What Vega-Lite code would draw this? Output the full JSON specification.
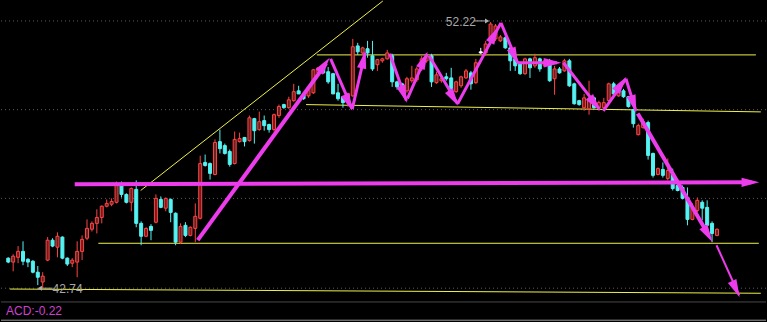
{
"$schema": "https://vega.github.io/schema/vega-lite/v6.json",
"width": 767, "height": 322,
"autosize": {"type": "fit", "contains": "padding"},
"padding": 0,
"background": "#000000",
"config": {"view": {"stroke": null}},
"datasets": {
"k": [
{"i":0,"o":43.81,"h":43.84,"l":43.63,"c":43.67,"d":"down"},
{"i":1,"o":43.67,"h":43.95,"l":43.34,"c":43.88,"d":"up"},
{"i":2,"o":43.84,"h":44.24,"l":43.63,"c":44.05,"d":"up"},
{"i":3,"o":44.05,"h":44.41,"l":43.56,"c":43.70,"d":"down"},
{"i":4,"o":43.77,"h":43.81,"l":43.49,"c":43.67,"d":"down"},
{"i":5,"o":43.70,"h":43.74,"l":43.27,"c":43.31,"d":"down"},
{"i":6,"o":43.31,"h":43.53,"l":42.85,"c":43.13,"d":"down"},
{"i":7,"o":42.96,"h":43.31,"l":42.74,"c":43.17,"d":"up"},
{"i":8,"o":43.74,"h":44.56,"l":43.70,"c":44.45,"d":"up"},
{"i":9,"o":44.45,"h":44.52,"l":44.20,"c":44.24,"d":"down"},
{"i":10,"o":44.20,"h":44.73,"l":43.84,"c":44.59,"d":"up"},
{"i":11,"o":44.56,"h":44.59,"l":43.77,"c":43.81,"d":"down"},
{"i":12,"o":43.81,"h":43.84,"l":43.53,"c":43.60,"d":"down"},
{"i":13,"o":43.63,"h":43.81,"l":43.49,"c":43.74,"d":"up"},
{"i":14,"o":43.67,"h":44.41,"l":43.13,"c":44.05,"d":"up"},
{"i":15,"o":44.05,"h":44.62,"l":43.74,"c":44.48,"d":"up"},
{"i":16,"o":44.52,"h":45.19,"l":44.45,"c":44.87,"d":"up"},
{"i":17,"o":44.84,"h":45.12,"l":44.76,"c":45.05,"d":"up"},
{"i":18,"o":45.05,"h":45.55,"l":44.69,"c":45.26,"d":"up"},
{"i":19,"o":45.26,"h":45.69,"l":45.05,"c":45.66,"d":"up"},
{"i":20,"o":45.66,"h":45.90,"l":45.62,"c":45.76,"d":"up"},
{"i":21,"o":45.73,"h":45.94,"l":45.66,"c":45.83,"d":"up"},
{"i":22,"o":45.80,"h":46.54,"l":45.76,"c":46.40,"d":"up"},
{"i":23,"o":46.44,"h":46.54,"l":45.97,"c":46.08,"d":"down"},
{"i":24,"o":46.08,"h":46.12,"l":45.76,"c":45.80,"d":"down"},
{"i":25,"o":45.80,"h":46.33,"l":45.48,"c":46.29,"d":"up"},
{"i":26,"o":46.26,"h":46.58,"l":44.91,"c":45.05,"d":"down"},
{"i":27,"o":45.05,"h":45.12,"l":44.27,"c":44.59,"d":"down"},
{"i":28,"o":44.59,"h":44.91,"l":44.56,"c":44.87,"d":"up"},
{"i":29,"o":44.94,"h":45.02,"l":44.45,"c":44.80,"d":"down"},
{"i":30,"o":45.09,"h":46.08,"l":45.05,"c":45.94,"d":"up"},
{"i":31,"o":45.90,"h":46.01,"l":45.59,"c":45.62,"d":"down"},
{"i":32,"o":45.59,"h":45.97,"l":45.48,"c":45.94,"d":"up"},
{"i":33,"o":45.90,"h":45.94,"l":45.09,"c":45.44,"d":"down"},
{"i":34,"o":45.41,"h":45.44,"l":44.27,"c":44.38,"d":"down"},
{"i":35,"o":44.38,"h":45.05,"l":44.31,"c":44.94,"d":"up"},
{"i":36,"o":44.98,"h":45.09,"l":44.56,"c":44.62,"d":"down"},
{"i":37,"o":44.62,"h":44.94,"l":44.59,"c":44.91,"d":"up"},
{"i":38,"o":44.87,"h":45.76,"l":44.38,"c":45.30,"d":"up"},
{"i":39,"o":45.23,"h":47.46,"l":45.19,"c":47.18,"d":"up"},
{"i":40,"o":47.22,"h":47.50,"l":47.07,"c":47.11,"d":"down"},
{"i":41,"o":47.18,"h":47.22,"l":46.61,"c":46.83,"d":"down"},
{"i":42,"o":46.79,"h":48.04,"l":46.76,"c":47.93,"d":"up"},
{"i":43,"o":47.96,"h":48.39,"l":47.54,"c":47.71,"d":"down"},
{"i":44,"o":47.82,"h":47.89,"l":47.50,"c":47.54,"d":"down"},
{"i":45,"o":47.61,"h":47.68,"l":47.07,"c":47.15,"d":"down"},
{"i":46,"o":47.18,"h":48.32,"l":47.15,"c":48.04,"d":"up"},
{"i":47,"o":47.96,"h":48.28,"l":47.93,"c":48.07,"d":"up"},
{"i":48,"o":48.11,"h":48.11,"l":47.79,"c":47.96,"d":"down"},
{"i":49,"o":48.00,"h":48.89,"l":47.96,"c":48.81,"d":"up"},
{"i":50,"o":48.78,"h":48.81,"l":47.89,"c":48.35,"d":"down"},
{"i":51,"o":48.39,"h":49.03,"l":48.35,"c":48.67,"d":"up"},
{"i":52,"o":48.71,"h":48.89,"l":48.35,"c":48.53,"d":"down"},
{"i":53,"o":48.57,"h":48.60,"l":48.28,"c":48.39,"d":"down"},
{"i":54,"o":48.39,"h":48.96,"l":48.32,"c":48.92,"d":"up"},
{"i":55,"o":48.89,"h":49.28,"l":48.81,"c":49.21,"d":"up"},
{"i":56,"o":49.28,"h":49.31,"l":49.13,"c":49.17,"d":"down"},
{"i":57,"o":49.17,"h":49.56,"l":49.13,"c":49.45,"d":"up"},
{"i":58,"o":49.42,"h":50.02,"l":49.38,"c":49.74,"d":"up"},
{"i":59,"o":49.77,"h":49.95,"l":49.66,"c":49.66,"d":"down"},
{"i":60,"o":49.63,"h":49.70,"l":49.45,"c":49.49,"d":"down"},
{"i":61,"o":49.59,"h":49.91,"l":49.52,"c":49.88,"d":"up"},
{"i":62,"o":49.70,"h":50.55,"l":49.66,"c":50.52,"d":"up"},
{"i":63,"o":50.41,"h":50.62,"l":50.38,"c":50.59,"d":"up"},
{"i":64,"o":50.62,"h":50.73,"l":50.38,"c":50.41,"d":"down"},
{"i":65,"o":50.45,"h":50.62,"l":50.02,"c":50.09,"d":"down"},
{"i":66,"o":50.38,"h":50.41,"l":49.66,"c":49.66,"d":"down"},
{"i":67,"o":49.70,"h":50.02,"l":49.42,"c":49.49,"d":"down"},
{"i":68,"o":49.56,"h":49.59,"l":49.17,"c":49.35,"d":"down"},
{"i":69,"o":49.52,"h":49.70,"l":49.21,"c":49.66,"d":"up"},
{"i":70,"o":49.59,"h":51.62,"l":49.56,"c":51.34,"d":"up"},
{"i":71,"o":51.37,"h":51.48,"l":51.05,"c":51.16,"d":"down"},
{"i":72,"o":51.12,"h":51.34,"l":51.05,"c":51.30,"d":"up"},
{"i":73,"o":51.27,"h":51.55,"l":50.95,"c":51.12,"d":"down"},
{"i":74,"o":51.02,"h":51.55,"l":50.48,"c":50.55,"d":"down"},
{"i":75,"o":50.70,"h":50.91,"l":50.48,"c":50.88,"d":"up"},
{"i":76,"o":50.84,"h":50.95,"l":50.77,"c":50.91,"d":"up"},
{"i":77,"o":50.91,"h":51.23,"l":50.88,"c":51.12,"d":"up"},
{"i":78,"o":51.02,"h":51.09,"l":49.91,"c":50.09,"d":"down"},
{"i":79,"o":50.09,"h":50.13,"l":49.81,"c":49.91,"d":"down"},
{"i":80,"o":50.02,"h":50.06,"l":49.70,"c":49.81,"d":"down"},
{"i":81,"o":49.77,"h":50.27,"l":49.70,"c":50.20,"d":"up"},
{"i":82,"o":50.13,"h":50.66,"l":50.06,"c":50.23,"d":"up"},
{"i":83,"o":50.16,"h":50.62,"l":50.09,"c":50.55,"d":"up"},
{"i":84,"o":50.55,"h":51.02,"l":50.48,"c":50.91,"d":"up"},
{"i":85,"o":50.84,"h":51.12,"l":50.77,"c":51.02,"d":"up"},
{"i":86,"o":51.02,"h":51.09,"l":49.91,"c":50.09,"d":"down"},
{"i":87,"o":50.06,"h":50.45,"l":50.02,"c":50.34,"d":"up"},
{"i":88,"o":50.13,"h":50.27,"l":50.06,"c":50.20,"d":"up"},
{"i":89,"o":50.27,"h":50.41,"l":50.13,"c":50.20,"d":"down"},
{"i":90,"o":50.23,"h":50.59,"l":49.59,"c":49.84,"d":"down"},
{"i":91,"o":49.74,"h":50.13,"l":49.70,"c":50.09,"d":"up"},
{"i":92,"o":49.95,"h":50.31,"l":49.88,"c":50.27,"d":"up"},
{"i":93,"o":50.23,"h":50.55,"l":50.20,"c":50.48,"d":"up"},
{"i":94,"o":50.41,"h":50.48,"l":49.81,"c":50.02,"d":"down"},
{"i":95,"o":50.06,"h":50.91,"l":50.02,"c":50.77,"d":"up"},
{"i":96,"o":51.12,"h":51.30,"l":51.09,"c":51.16,"d":"flat"},
{"i":97,"o":51.12,"h":51.55,"l":51.02,"c":51.44,"d":"up"},
{"i":98,"o":51.55,"h":52.22,"l":51.51,"c":52.15,"d":"up"},
{"i":99,"o":51.62,"h":52.15,"l":51.55,"c":52.08,"d":"up"},
{"i":100,"o":51.55,"h":51.76,"l":51.51,"c":51.69,"d":"up"},
{"i":101,"o":51.66,"h":51.73,"l":51.27,"c":51.30,"d":"down"},
{"i":102,"o":51.30,"h":51.37,"l":50.48,"c":50.84,"d":"down"},
{"i":103,"o":50.91,"h":50.98,"l":50.48,"c":50.66,"d":"down"},
{"i":104,"o":50.73,"h":50.80,"l":50.34,"c":50.38,"d":"down"},
{"i":105,"o":50.38,"h":50.95,"l":50.34,"c":50.91,"d":"up"},
{"i":106,"o":50.91,"h":50.95,"l":50.23,"c":50.59,"d":"down"},
{"i":107,"o":50.66,"h":51.09,"l":50.59,"c":50.95,"d":"up"},
{"i":108,"o":50.91,"h":50.95,"l":50.45,"c":50.55,"d":"down"},
{"i":109,"o":50.66,"h":50.88,"l":50.62,"c":50.84,"d":"up"},
{"i":110,"o":50.84,"h":50.91,"l":50.09,"c":50.13,"d":"down"},
{"i":111,"o":50.20,"h":50.66,"l":49.63,"c":50.55,"d":"up"},
{"i":112,"o":50.55,"h":50.62,"l":50.38,"c":50.41,"d":"down"},
{"i":113,"o":50.48,"h":50.91,"l":50.45,"c":50.84,"d":"up"},
{"i":114,"o":50.84,"h":50.91,"l":49.91,"c":49.95,"d":"down"},
{"i":115,"o":50.02,"h":50.06,"l":49.28,"c":49.31,"d":"down"},
{"i":116,"o":49.42,"h":49.45,"l":49.24,"c":49.28,"d":"down"},
{"i":117,"o":49.17,"h":49.66,"l":49.06,"c":49.52,"d":"up"},
{"i":118,"o":49.13,"h":50.13,"l":48.92,"c":49.49,"d":"up"},
{"i":119,"o":49.52,"h":49.56,"l":49.13,"c":49.17,"d":"down"},
{"i":120,"o":49.17,"h":49.42,"l":49.06,"c":49.35,"d":"up"},
{"i":121,"o":49.17,"h":49.52,"l":49.06,"c":49.35,"d":"up"},
{"i":122,"o":49.42,"h":50.06,"l":49.38,"c":50.02,"d":"up"},
{"i":123,"o":50.02,"h":50.09,"l":49.59,"c":49.66,"d":"down"},
{"i":124,"o":49.59,"h":49.81,"l":49.56,"c":49.77,"d":"up"},
{"i":125,"o":49.77,"h":49.84,"l":49.52,"c":49.56,"d":"down"},
{"i":126,"o":49.56,"h":49.59,"l":49.17,"c":49.21,"d":"down"},
{"i":127,"o":49.10,"h":49.13,"l":48.46,"c":48.60,"d":"down"},
{"i":128,"o":48.21,"h":48.60,"l":48.18,"c":48.53,"d":"up"},
{"i":129,"o":48.46,"h":48.78,"l":48.42,"c":48.67,"d":"up"},
{"i":130,"o":48.64,"h":48.71,"l":47.32,"c":47.47,"d":"down"},
{"i":131,"o":47.54,"h":47.57,"l":46.68,"c":46.76,"d":"down"},
{"i":132,"o":46.79,"h":47.04,"l":46.76,"c":47.00,"d":"up"},
{"i":133,"o":46.97,"h":47.22,"l":46.68,"c":46.76,"d":"down"},
{"i":134,"o":46.65,"h":47.36,"l":46.58,"c":46.93,"d":"up"},
{"i":135,"o":46.83,"h":47.00,"l":46.22,"c":46.29,"d":"down"},
{"i":136,"o":46.40,"h":46.44,"l":46.19,"c":46.22,"d":"down"},
{"i":137,"o":46.33,"h":46.40,"l":45.90,"c":45.94,"d":"down"},
{"i":138,"o":45.97,"h":46.33,"l":44.98,"c":45.19,"d":"down"},
{"i":139,"o":45.19,"h":45.76,"l":45.16,"c":45.59,"d":"up"},
{"i":140,"o":45.51,"h":45.97,"l":45.44,"c":45.87,"d":"up"},
{"i":141,"o":45.80,"h":45.87,"l":45.16,"c":45.59,"d":"down"},
{"i":142,"o":45.62,"h":45.87,"l":44.87,"c":44.98,"d":"down"},
{"i":143,"o":45.05,"h":45.12,"l":44.38,"c":44.69,"d":"down"},
{"i":144,"o":44.62,"h":44.87,"l":44.59,"c":44.84,"d":"up"}
],
"grid": [{"p":52.26},{"p":49.10},{"p":45.94},{"p":42.74}],
"ylines": [
{"x1":26.9,"p1":46.22,"x2":76.1,"p2":52.97},
{"x1":62.7,"p1":51.05,"x2":151.9,"p2":51.05},
{"x1":60.5,"p1":49.28,"x2":152.9,"p2":49.02},
{"x1":18.3,"p1":44.34,"x2":152.5,"p2":44.34},
{"x1":0.3,"p1":42.71,"x2":152.9,"p2":42.56}
],
"mthick": [
{"x1":13.5,"p1":46.44,"x2":151.0,"p2":46.51},
{"x1":38.5,"p1":44.45,"x2":64.6,"p2":50.75},
{"x1":127.9,"p1":48.96,"x2":142.4,"p2":44.60}
],
"mnorm": [
{"x1":65.5,"p1":50.91,"x2":69.9,"p2":49.13},
{"x1":69.9,"p1":49.13,"x2":72.5,"p2":51.12},
{"x1":77.5,"p1":51.09,"x2":80.9,"p2":49.42},
{"x1":81.1,"p1":49.49,"x2":85.1,"p2":51.09},
{"x1":85.5,"p1":51.02,"x2":91.3,"p2":49.31},
{"x1":91.3,"p1":49.31,"x2":100.1,"p2":52.19},
{"x1":100.1,"p1":52.19,"x2":103.5,"p2":50.77},
{"x1":103.5,"p1":50.77,"x2":111.5,"p2":50.77},
{"x1":112.8,"p1":50.77,"x2":120.1,"p2":49.13},
{"x1":120.9,"p1":49.06,"x2":125.5,"p2":50.20},
{"x1":125.5,"p1":50.20,"x2":127.5,"p2":49.06}
],
"mthin": [
{"x1":143.9,"p1":44.27,"x2":148.5,"p2":42.49}
],
"heads": [
{"x":152.6,"p":46.51,"a":90},
{"x":65.3,"p":50.95,"a":36},
{"x":69.9,"p":49.06,"a":156},
{"x":72.6,"p":51.19,"a":13},
{"x":81.0,"p":49.35,"a":160},
{"x":85.2,"p":51.16,"a":24},
{"x":91.4,"p":49.24,"a":149},
{"x":99.6,"p":52.05,"a":28},
{"x":103.6,"p":50.70,"a":157},
{"x":112.4,"p":50.77,"a":90},
{"x":120.3,"p":49.06,"a":142},
{"x":125.6,"p":50.27,"a":36},
{"x":127.6,"p":48.99,"a":163},
{"x":143.1,"p":44.38,"a":149},
{"x":148.6,"p":42.42,"a":155}
],
"glines": [
{"x1":94.7,"p1":52.26,"x2":97.3,"p2":52.26},
{"x1":9.0,"p1":42.74,"x2":6.6,"p2":42.74}
],
"gheads": [
{"x":97.3,"p":52.26,"a":90},
{"x":6.4,"p":42.74,"a":270}
],
"labels": [
{"x":88.9,"p":52.22,"t":"52.22"},
{"x":9.0,"p":42.70,"t":"42.74"}
],
"macd": [{"x":-0.46,"p":41.93,"t":"ACD:-0.22"}],
"sep": [{"p":42.25}],
"sep2": [{"p":41.60}]
},
"layer": [
{"data":{"name":"grid"},"mark":{"type":"rule","color":"#5c5c5c","strokeDash":[1,3],"strokeWidth":1},
 "encoding":{"y":{"field":"p","type":"quantitative","scale":{"domain":[41.536,52.97],"nice":false,"zero":false},"axis":null}}},
{"data":{"name":"sep"},"mark":{"type":"rule","color":"#4a4a4a","strokeWidth":1},
 "encoding":{"y":{"field":"p","type":"quantitative","axis":null}}},
{"data":{"name":"sep2"},"mark":{"type":"rule","color":"#9a9a9a","strokeWidth":1},
 "encoding":{"y":{"field":"p","type":"quantitative","axis":null}}},
{"data":{"name":"ylines"},"mark":{"type":"rule","color":"#f0f04a","strokeWidth":1},
 "encoding":{"x":{"field":"x1","type":"quantitative","scale":{"domain":[-0.46,152.94],"nice":false,"zero":false},"axis":null},"x2":{"field":"x2"},
  "y":{"field":"p1","type":"quantitative","axis":null},"y2":{"field":"p2"}}},
{"data":{"name":"k"},"mark":{"type":"rule","strokeWidth":1},
 "encoding":{"x":{"field":"i","type":"quantitative","axis":null},
  "y":{"field":"l","type":"quantitative","axis":null},"y2":{"field":"h"},
  "color":{"field":"d","type":"nominal","scale":{"domain":["up","down","flat"],"range":["#ff4444","#55f2f2","#ffffff"]},"legend":null}}},
{"data":{"name":"k"},"mark":{"type":"bar","size":3,"strokeWidth":1},
 "encoding":{"x":{"field":"i","type":"quantitative","axis":null},
  "y":{"field":"o","type":"quantitative","axis":null},"y2":{"field":"c"},
  "fill":{"field":"d","type":"nominal","scale":{"domain":["up","down","flat"],"range":["#6e1e1e","#55f2f2","#ffffff"]},"legend":null},
  "stroke":{"field":"d","type":"nominal","scale":{"domain":["up","down","flat"],"range":["#ff4444","#55f2f2","#ffffff"]},"legend":null}}},
{"data":{"name":"mthick"},"mark":{"type":"rule","color":"#ec3cec","strokeWidth":4},
 "encoding":{"x":{"field":"x1","type":"quantitative","axis":null},"x2":{"field":"x2"},
  "y":{"field":"p1","type":"quantitative","axis":null},"y2":{"field":"p2"}}},
{"data":{"name":"mnorm"},"mark":{"type":"rule","color":"#ec3cec","strokeWidth":3},
 "encoding":{"x":{"field":"x1","type":"quantitative","axis":null},"x2":{"field":"x2"},
  "y":{"field":"p1","type":"quantitative","axis":null},"y2":{"field":"p2"}}},
{"data":{"name":"mthin"},"mark":{"type":"rule","color":"#ec3cec","strokeWidth":2},
 "encoding":{"x":{"field":"x1","type":"quantitative","axis":null},"x2":{"field":"x2"},
  "y":{"field":"p1","type":"quantitative","axis":null},"y2":{"field":"p2"}}},
{"data":{"name":"heads"},"mark":{"type":"point","shape":"M0,0L0.5,1.9L-0.5,1.9Z","filled":true,"color":"#ec3cec","size":350,"opacity":1},
 "encoding":{"x":{"field":"x","type":"quantitative","axis":null},
  "y":{"field":"p","type":"quantitative","axis":null},
  "angle":{"field":"a","type":"quantitative","scale":null}}},
{"data":{"name":"glines"},"mark":{"type":"rule","color":"#b0b0b0","strokeWidth":1},
 "encoding":{"x":{"field":"x1","type":"quantitative","axis":null},"x2":{"field":"x2"},
  "y":{"field":"p1","type":"quantitative","axis":null},"y2":{"field":"p2"}}},
{"data":{"name":"gheads"},"mark":{"type":"point","shape":"triangle-up","filled":true,"color":"#b0b0b0","size":25,"opacity":1},
 "encoding":{"x":{"field":"x","type":"quantitative","axis":null},
  "y":{"field":"p","type":"quantitative","axis":null},
  "angle":{"field":"a","type":"quantitative","scale":null}}},
{"data":{"name":"labels"},"mark":{"type":"text","align":"left","baseline":"middle","color":"#a8a8a8","font":"Liberation Sans","fontSize":12},
 "encoding":{"x":{"field":"x","type":"quantitative","axis":null},
  "y":{"field":"p","type":"quantitative","axis":null},"text":{"field":"t"}}},
{"data":{"name":"macd"},"mark":{"type":"text","align":"left","baseline":"middle","color":"#d040d0","font":"Liberation Sans","fontSize":12},
 "encoding":{"x":{"field":"x","type":"quantitative","axis":null},
  "y":{"field":"p","type":"quantitative","axis":null},"text":{"field":"t"}}}
]
}
